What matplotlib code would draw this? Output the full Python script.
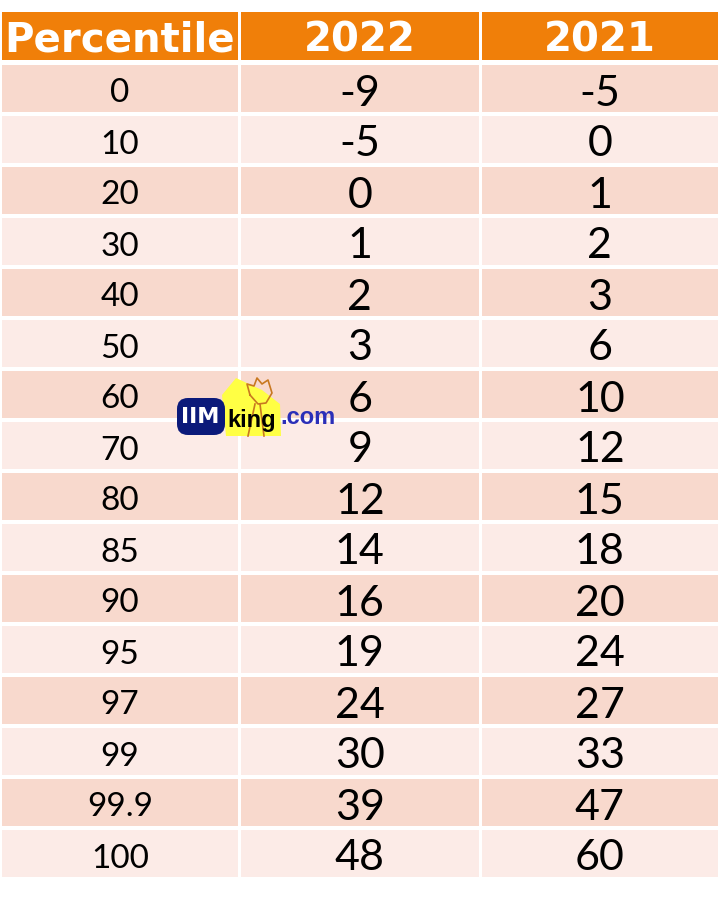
import matplotlib.pyplot as plt
from matplotlib.patches import Rectangle, FancyBboxPatch, Polygon

# table data
headers = ["Percentile", "2022", "2021"]
percentiles = ["0", "10", "20", "30", "40", "50", "60", "70", "80", "85",
               "90", "95", "97", "99", "99.9", "100"]
score_2022 = [-9, -5, 0, 1, 2, 3, 6, 9, 12, 14, 16, 19, 24, 30, 39, 48]
score_2021 = [-5, 0, 1, 2, 3, 6, 10, 12, 15, 18, 20, 24, 27, 33, 47, 60]

W, H = 726, 907
fig = plt.figure(figsize=(W / 100, H / 100), dpi=100)
ax = fig.add_axes([0, 0, 1, 1])
ax.set_xlim(0, W)
ax.set_ylim(H, 0)
ax.axis("off")

orange = "#F07F09"
dark = "#F8D9CD"
light = "#FCEBE7"

col_x = [2, 241, 482, 721]
top = 12
row_h = 51
gap = 1.6

# header row
for j, h in enumerate(headers):
    x0, x1 = col_x[j], col_x[j + 1]
    ax.add_patch(Rectangle((x0, top), x1 - x0 - 2 * gap, row_h - 2 * gap, color=orange, lw=0))
    ax.text((x0 + x1) / 2 - gap, top + row_h / 2 + 3, h, ha="center", va="center",
            fontsize=29, fontweight="bold", color="white", family="DejaVu Sans")

# body rows
rows = list(zip(percentiles, score_2022, score_2021))
for i, row in enumerate(rows):
    y0 = top + row_h * (i + 1)
    fc = dark if i % 2 == 0 else light
    for j, val in enumerate(row):
        x0, x1 = col_x[j], col_x[j + 1]
        ax.add_patch(Rectangle((x0, y0 + gap), x1 - x0 - 2 * gap, row_h - 2 * gap, color=fc, lw=0))
        fs = 24 if j == 0 else 31
        ax.text((x0 + x1) / 2 - gap, y0 + row_h / 2 + 5, str(val), ha="center", va="center",
                fontsize=fs, color="black", family="Lato")

# watermark logo
ax.add_patch(Polygon([[222, 395], [236, 378], [262, 390], [280, 404], [281, 436], [226, 436]],
                     closed=True, color="#FFFF44", lw=0, zorder=5))
ax.add_patch(FancyBboxPatch((177, 398), 48, 37, boxstyle="round,pad=0,rounding_size=11",
                            color="#0B1A7A", lw=0, zorder=6))
ax.text(200, 417, "IIM", ha="center", va="center", fontsize=16, fontweight="bold",
        color="white", family="DejaVu Sans", zorder=7)
ax.plot([250, 247, 254, 257, 262, 268, 272, 266, 258, 250],
        [395, 384, 386, 378, 384, 380, 393, 403, 404, 395], color="#C87820", lw=1.2, zorder=6)
ax.plot([255, 248], [404, 436], color="#C87820", lw=1.2, zorder=6)
ax.plot([260, 264], [404, 436], color="#C87820", lw=1.2, zorder=6)
ax.text(227, 421, "king", ha="left", va="center", fontsize=17, fontweight="bold",
        color="black", family="Liberation Sans", zorder=7)
ax.text(280, 418, ".com", ha="left", va="center", fontsize=17, fontweight="bold",
        color="#2B2FB8", family="Liberation Sans", zorder=7)

fig.savefig("out.png", dpi=100, facecolor="white")
